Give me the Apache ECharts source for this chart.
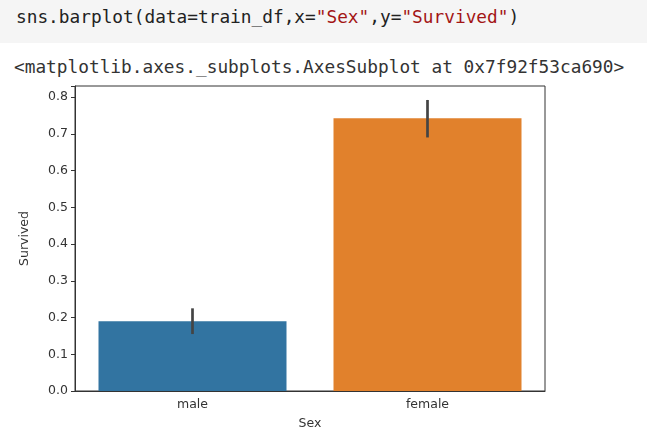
<!DOCTYPE html>
<html><head><meta charset="utf-8">
<script src="https://cdn.jsdelivr.net/npm/echarts@6/dist/echarts.min.js"></script>
<style>
body{margin:0;background:#fff;width:647px;height:447px;overflow:hidden;position:relative;font-family:"DejaVu Sans Mono",monospace;}
#code{position:absolute;left:0;top:0;width:647px;height:43px;background:#f5f5f5;}
#code span.t{position:absolute;left:16px;top:6px;font-size:17.8px;color:#222;white-space:pre;}
.s{color:#a31515;}
#out{position:absolute;left:14px;top:56px;font-size:17.8px;color:#333;white-space:pre;}
#c{position:absolute;left:0;top:0;width:647px;height:447px;}
</style></head><body>
<div id="code"><span class="t">sns.barplot(data=train_df,x=<span class="s">"Sex"</span>,y=<span class="s">"Survived"</span>)</span></div>
<div id="out">&lt;matplotlib.axes._subplots.AxesSubplot at 0x7f92f53ca690&gt;</div>
<div id="c"></div>
<script>
const categories = ["male", "female"];
const survived = [0.19, 0.742];
const ciLow = [0.155, 0.69];
const ciHigh = [0.225, 0.792];
const barColors = ["#3274a1", "#e1812c"];
const yTicks = [0.0,0.1,0.2,0.3,0.4,0.5,0.6,0.7,0.8];

const chart = echarts.init(document.getElementById('c'));
chart.setOption({
  animation:false,
  grid:{left:75,right:102,top:86,bottom:56,show:true,borderColor:'#333',borderWidth:1,backgroundColor:'transparent'},
  xAxis:{type:'category',data:categories,name:'Sex',nameLocation:'middle',nameGap:26,
    nameTextStyle:{fontSize:12.5,color:'#333',fontFamily:'DejaVu Sans'},
    axisLine:{lineStyle:{color:'#333'}},axisTick:{alignWithLabel:true,length:4,lineStyle:{color:'#333'}},
    axisLabel:{fontSize:12.5,color:'#333',fontFamily:'DejaVu Sans',margin:7}},
  yAxis:{type:'value',min:0,max:0.83,interval:0.1,name:'Survived',nameLocation:'middle',nameGap:44,
    nameTextStyle:{fontSize:12.5,color:'#333',fontFamily:'DejaVu Sans'},
    splitLine:{show:false},axisLine:{show:true,lineStyle:{color:'#333'}},
    axisTick:{show:true,length:4,lineStyle:{color:'#333'}},
    axisLabel:{fontSize:12.5,color:'#333',fontFamily:'DejaVu Sans',margin:7,
      formatter:v=>yTicks.some(t=>Math.abs(t-v)<1e-6)?v.toFixed(1):''}},
  series:[
    {type:'bar',barWidth:'80%',data:survived.map((v,i)=>({value:v,itemStyle:{color:barColors[i]}}))},
    {type:'custom',data:categories.map((c,i)=>[i,ciLow[i],ciHigh[i]]),z:10,
     renderItem:(p,api)=>{const a=api.coord([api.value(0),api.value(1)]);const b=api.coord([api.value(0),api.value(2)]);
       return {type:'line',shape:{x1:a[0],y1:a[1],x2:b[0],y2:b[1]},style:{stroke:'#444',lineWidth:2.7}};}}
  ]
});
</script></body></html>
